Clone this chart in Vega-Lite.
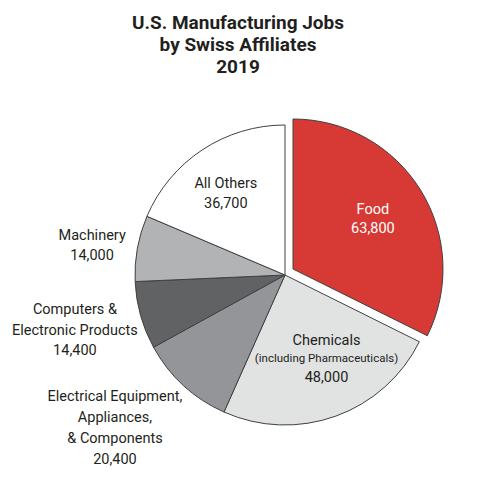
{
  "$schema": "https://vega.github.io/schema/vega-lite/v6.json",
  "width": 390,
  "height": 454,
  "autosize": {"type": "none"},
  "padding": {"left": 90, "top": 48, "right": 0, "bottom": 0},
  "background": "white",
  "title": {
    "text": ["U.S. Manufacturing Jobs", "by Swiss Affiliates", "2019"],
    "font": "Roboto",
    "fontSize": 19,
    "fontWeight": "bold",
    "color": "#231f20",
    "anchor": "middle",
    "lineHeight": 22,
    "offset": 0,
    "dx": -47,
    "dy": 29
  },
  "data": {
    "values": [
      {"order": 1, "sector": "Food", "jobs": 63800, "label": "Food\n63,800", "note": ""},
      {"order": 2, "sector": "Chemicals", "jobs": 48000, "label": "Chemicals", "note": "(including Pharmaceuticals)"},
      {"order": 3, "sector": "Electrical Equipment", "jobs": 20400, "label": "Electrical Equipment,\nAppliances,\n& Components\n20,400", "note": ""},
      {"order": 4, "sector": "Computers", "jobs": 14400, "label": "Computers &\nElectronic Products\n14,400", "note": ""},
      {"order": 5, "sector": "Machinery", "jobs": 14000, "label": "Machinery\n14,000", "note": ""},
      {"order": 6, "sector": "All Others", "jobs": 36700, "label": "All Others\n36,700", "note": ""}
    ]
  },
  "transform": [
    {"stack": "jobs", "groupby": [], "sort": [{"field": "order", "order": "ascending"}], "as": ["start", "end"]}
  ],
  "layer": [
    {
      "transform": [{"filter": "datum.sector !== 'Food'"}],
      "mark": {"type": "arc", "radius": 150, "stroke": "#414042", "strokeWidth": 1},
      "encoding": {
        "theta": {"field": "start", "type": "quantitative", "scale": {"domain": [0, 197300]}},
        "theta2": {"field": "end"},
        "color": {
          "field": "sector",
          "type": "nominal",
          "legend": null,
          "scale": {
            "domain": ["Food", "Chemicals", "Electrical Equipment", "Computers", "Machinery", "All Others"],
            "range": ["#d73a35", "#e1e2e2", "#939598", "#616264", "#b1b3b5", "#ffffff"]
          }
        }
      }
    },
    {
      "transform": [{"filter": "datum.sector === 'Food'"}],
      "mark": {"type": "arc", "radius": 150, "stroke": "#414042", "strokeWidth": 1, "xOffset": 8, "yOffset": -6},
      "encoding": {
        "theta": {"field": "start", "type": "quantitative"},
        "theta2": {"field": "end"},
        "color": {"field": "sector", "type": "nominal", "legend": null}
      }
    },
    {
      "mark": {"type": "text", "radius": 94, "dx": 8, "dy": -15, "font": "Roboto", "fontSize": 14.5, "lineHeight": 19, "lineBreak": "\n", "color": "#ffffff", "align": "center", "baseline": "middle"},
      "encoding": {
        "theta": {"field": "jobs", "type": "quantitative", "stack": true},
        "order": {"field": "order"},
        "text": {"condition": {"test": "datum.sector === 'Food'", "field": "label"}, "value": ""}
      }
    },
    {
      "mark": {"type": "text", "radius": 100, "dx": -4, "dy": -8, "font": "Roboto", "fontSize": 14.5, "lineHeight": 20, "lineBreak": "\n", "color": "#231f20", "align": "center", "baseline": "middle"},
      "encoding": {
        "theta": {"field": "jobs", "type": "quantitative", "stack": true},
        "order": {"field": "order"},
        "text": {"condition": {"test": "datum.sector === 'All Others'", "field": "label"}, "value": ""}
      }
    },
    {
      "mark": {"type": "text", "radius": 93, "dx": 10, "dy": -22, "font": "Roboto", "fontSize": 14.5, "color": "#231f20", "align": "center", "baseline": "middle"},
      "encoding": {
        "theta": {"field": "jobs", "type": "quantitative", "stack": true},
        "order": {"field": "order"},
        "text": {"condition": {"test": "datum.sector === 'Chemicals'", "field": "label"}, "value": ""}
      }
    },
    {
      "mark": {"type": "text", "radius": 93, "dx": 10, "dy": -4, "font": "Roboto", "fontSize": 11.5, "color": "#231f20", "align": "center", "baseline": "middle"},
      "encoding": {
        "theta": {"field": "jobs", "type": "quantitative", "stack": true},
        "order": {"field": "order"},
        "text": {"field": "note"}
      }
    },
    {
      "mark": {"type": "text", "radius": 93, "dx": 10, "dy": 15, "font": "Roboto", "fontSize": 14.5, "color": "#231f20", "align": "center", "baseline": "middle"},
      "encoding": {
        "theta": {"field": "jobs", "type": "quantitative", "stack": true},
        "order": {"field": "order"},
        "text": {"condition": {"test": "datum.sector === 'Chemicals'", "field": "jobs", "type": "quantitative", "format": ","}, "value": ""}
      }
    },
    {
      "mark": {"type": "text", "radius": 195, "dx": -1, "dy": -4, "font": "Roboto", "fontSize": 14.5, "lineHeight": 20, "lineBreak": "\n", "color": "#231f20", "align": "center", "baseline": "middle"},
      "encoding": {
        "theta": {"field": "jobs", "type": "quantitative", "stack": true},
        "order": {"field": "order"},
        "text": {"condition": {"test": "datum.sector === 'Machinery'", "field": "label"}, "value": ""}
      }
    },
    {
      "mark": {"type": "text", "radius": 213, "dx": -5, "dy": -22, "font": "Roboto", "fontSize": 14.5, "lineHeight": 20.5, "lineBreak": "\n", "color": "#231f20", "align": "center", "baseline": "middle"},
      "encoding": {
        "theta": {"field": "jobs", "type": "quantitative", "stack": true},
        "order": {"field": "order"},
        "text": {"condition": {"test": "datum.sector === 'Computers'", "field": "label"}, "value": ""}
      }
    },
    {
      "mark": {"type": "text", "radius": 215, "dx": -24.5, "dy": -36, "font": "Roboto", "fontSize": 14.5, "lineHeight": 20.8, "lineBreak": "\n", "color": "#231f20", "align": "center", "baseline": "middle"},
      "encoding": {
        "theta": {"field": "jobs", "type": "quantitative", "stack": true},
        "order": {"field": "order"},
        "text": {"condition": {"test": "datum.sector === 'Electrical Equipment'", "field": "label"}, "value": ""}
      }
    }
  ],
  "config": {"view": {"stroke": null}}
}
